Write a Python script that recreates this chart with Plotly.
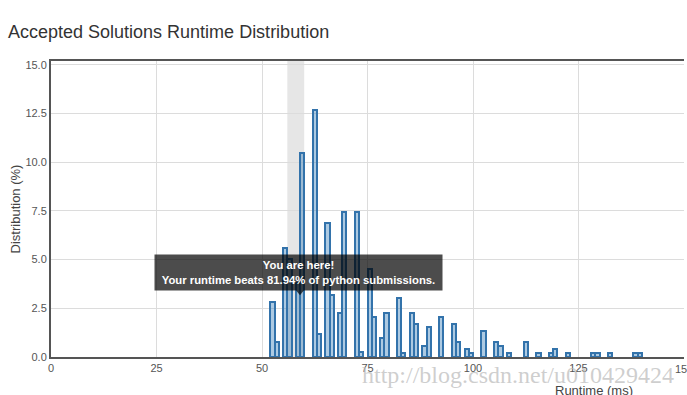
import plotly.graph_objects as go

# ---- data ----
runtime_ms = [52, 53, 55, 56, 58, 59, 62, 63, 65, 66, 68, 69, 72, 73, 75, 76, 78, 79,
              82, 83, 85, 86, 88, 89, 92, 95, 96, 98, 99, 102, 105, 106, 108, 112,
              115, 118, 119, 122, 128, 129, 132, 138, 139]
distribution_pct = [2.84, 0.79, 5.61, 5.03, 3.79, 10.46, 12.68, 1.16, 6.9, 3.18, 2.28, 7.45,
                    7.45, 0.26, 4.52, 2.07, 0.96, 2.28, 3.01, 0.22, 2.28, 1.69, 0.58, 1.52,
                    2.07, 1.69, 0.79, 0.41, 0.22, 1.35, 0.79, 0.58, 0.22, 0.79, 0.22, 0.22,
                    0.41, 0.22, 0.22, 0.22, 0.22, 0.22, 0.22]
highlight_range = [56, 60]
your_runtime = 59
beats_pct = 81.94
x_ticks = [0, 25, 50, 75, 100, 125, 150]
y_ticks = [0, 2.5, 5, 7.5, 10, 12.5, 15]

FONT = "Liberation Sans, Arial, sans-serif"

fig = go.Figure()
fig.add_trace(go.Bar(
    x=runtime_ms, y=distribution_pct, width=1, offset=0,
    marker=dict(color="rgba(51,122,183,0.40)", line=dict(color="#3373ab", width=2)),
    hoverinfo="skip", showlegend=False,
))

# highlighted bin band
fig.add_shape(type="rect", xref="x", yref="paper", x0=highlight_range[0], x1=highlight_range[1],
              y0=0, y1=1, fillcolor="#e6e6e6", line=dict(width=0), layer="below")

# tooltip box
fig.add_annotation(
    x=your_runtime - 0.4, y=4.36, xref="x", yref="y",
    text=f"<b>You are here!</b><br><b>Your runtime beats {beats_pct}% of python submissions.</b>",
    showarrow=False, font=dict(family=FONT, size=11.3, color="white"),
    bgcolor="rgba(0,0,0,0.7)", width=283, height=31, borderpad=2, align="center",
)
# tooltip pointer
fig.add_shape(type="path", xref="x", yref="y", xsizemode="pixel", ysizemode="pixel",
              xanchor=your_runtime, yanchor=3.43,
              path="M -4,0 L 4,0 L 0,-5 Z", fillcolor="rgba(0,0,0,0.7)", line=dict(width=0))

# last x tick label (cut by the window edge in the reference)
fig.add_annotation(x=x_ticks[-1], y=0, xref="x", yref="paper", text=str(x_ticks[-1]),
                   showarrow=False, xanchor="center", yanchor="top", yshift=-4,
                   font=dict(family=FONT, size=11, color="#555"))

# x-axis title placed at right
fig.add_annotation(x=0.858, y=-0.08, xref="paper", yref="paper", text="Runtime (ms)",
                   showarrow=False, font=dict(family=FONT, size=13, color="#444"),
                   xanchor="center", yanchor="top")
# watermark
fig.add_annotation(x=0.737, y=-0.061, xref="paper", yref="paper",
                   text="http://blog.csdn.net/u010429424", showarrow=False,
                   font=dict(family="Liberation Serif, DejaVu Serif, serif", size=24,
                             color="rgba(185,185,185,0.7)"), xanchor="center", yanchor="middle")

fig.update_layout(
    width=687, height=395,
    margin=dict(l=51, r=3, t=61, b=38),
    paper_bgcolor="white", plot_bgcolor="white",
    title=dict(text="Accepted Solutions Runtime Distribution", x=8/687, xref="container",
               xanchor="left", y=1 - 32/395, yref="container", yanchor="middle",
               font=dict(family=FONT, size=18, color="#333")),
    font=dict(family=FONT, size=11, color="#555"),
    bargap=0,
    xaxis=dict(range=[0, 150], tickvals=x_ticks, showgrid=True, gridcolor="#dcdcdc",
               gridwidth=1, showline=True, linecolor="#555", linewidth=2, mirror=True,
               zeroline=False, ticks="", tickfont=dict(size=11, color="#555")),
    yaxis=dict(range=[0, 15.2], tickvals=y_ticks, tickformat=".1f", showgrid=True,
               gridcolor="#dcdcdc", gridwidth=1, showline=True, linecolor="#555",
               linewidth=2, zeroline=False, ticks="",
               title=dict(text="Distribution (%)", font=dict(size=13, color="#444"), standoff=2),
               tickfont=dict(size=11, color="#555")),
)

fig.write_html("out.html")
